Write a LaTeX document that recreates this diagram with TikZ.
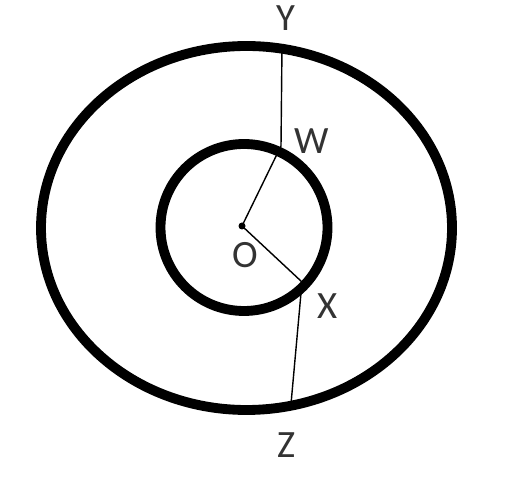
\documentclass[tikz,border=0pt]{standalone}
\usepackage{fontspec}
\setmainfont{Carlito}
\usetikzlibrary{positioning}

\begin{document}
\begin{tikzpicture}[x=0.02cm,y=-0.02cm,
    ring/.style={line width=5.6pt},
    seg/.style={line width=0.8pt},
    lbl/.style={font=\fontsize{22}{24}\selectfont,text=black!80}]
    \useasboundingbox (0,0) rectangle (520,492);

    \draw[ring] (246.5,228) ellipse [x radius=205.5, y radius=182];
    \draw[ring] (244,227.5) circle [radius=83.5];

    \coordinate (Y) at (282,46) ;
    \coordinate (W) at (281,146) ;
    \coordinate (O) at (242,226) ;
    \coordinate (X) at (302,282) ;
    \coordinate (Z) at (291,404) ;

    \fill (O) circle [radius=3.5];

    \node[lbl] (lY) at (286,18) {Y} ;
    \node[lbl] (lW) at (312,141) {W} ;
    \node[lbl] (lO) at (245,255) {O} ;
    \node[lbl] (lX) at (328,306) {X} ;
    \node[lbl] (lZ) at (287,445) {Z} ;

    \path[seg] (Y) edge (W) ;
    \path[seg] (W) edge (O) ;
    \path[seg] (O) edge (X) ;
    \path[seg] (X) edge (Z) ;
\end{tikzpicture}
\end{document}
